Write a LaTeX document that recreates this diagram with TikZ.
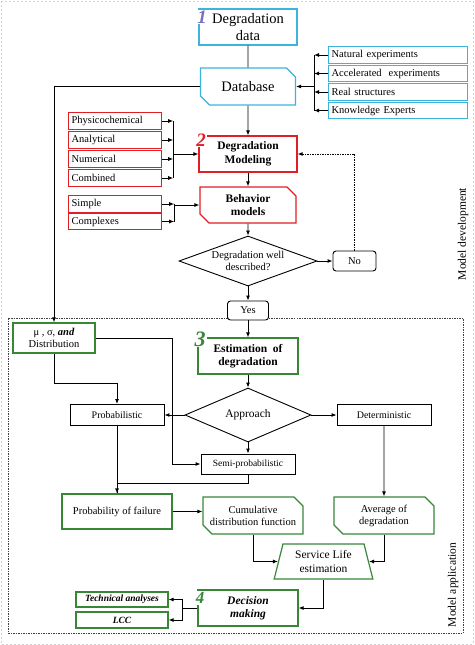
\documentclass[tikz,border=0pt]{standalone}
\usepackage{fontspec}
\setmainfont{Liberation Serif}
\usetikzlibrary{calc,arrows.meta,shapes.misc,shapes.geometric}

\definecolor{cian}{RGB}{60,180,222}
\definecolor{rojo}{RGB}{225,30,35}
\definecolor{verde}{RGB}{55,135,55}
\definecolor{lila}{RGB}{120,110,195}

\tikzset{
	arr/.style={-{Latex[length=5pt,width=4pt]}},
	caja/.style={draw, fill=white, line width=1.2pt, align=center, inner sep=1pt},
	corte/.style={chamfered rectangle, chamfered rectangle corners={north east,south west}, chamfered rectangle xsep=6pt},
	lista/.style={caja, inner xsep=3pt, align=left, anchor=west, minimum height=16.5pt},
	num/.style={fill=white, inner sep=1pt, font=\fontsize{19}{19}\selectfont\bfseries\itshape},
	grande/.style={font=\fontsize{14.5}{16.5}\selectfont},
	negrita/.style={font=\fontsize{11.5}{13.5}\selectfont\bfseries},
}

\begin{document}
\begin{tikzpicture}[x=1pt, y=-1pt, line width=0.9pt, font=\fontsize{10.5}{12}\selectfont]
\useasboundingbox (0,0) rectangle (474,645);
\draw[gray!35, line width=0.6pt, dash pattern=on 2pt off 2pt] (1,1) rectangle (473,644);
\draw[black!75, line width=0.6pt, dash pattern=on 1.5pt off 1pt] (8,318) rectangle (463,633);

%% Model development %%
\node[caja, draw=cian, grande, minimum width=98, minimum height=36] (data) at (248,27) {Degradation\\data};
\node[caja, corte, draw=cian, grande, minimum width=95, minimum height=37] (db) at (248,86.5) {Database};
\foreach \t [count=\i] in {Natural experiments, Accelerated\ \ experiments, Real structures, Knowledge Experts}
	\node[lista, draw=cian, text width=133] (src\i) at (328,36.5+18.5*\i) {\t};
\coordinate (bus1) at ($(src1.west)+(-14,0)$);
\draw (bus1) -- (bus1 |- src4.west);
\foreach \i in {1,...,4}
	\draw[arr] (src\i.west) -- (src\i.west -| bus1);
\draw[arr] (db.east -| bus1) -- (db.east);
\draw (data) -- (db);

\node[caja, draw=rojo, negrita, minimum width=98, minimum height=36] (mod) at (248,154) {Degradation\\Modeling};
\foreach \t [count=\i] in {Physicochemical, Analytical, Numerical, Combined}
	\node[lista, draw=rojo, text width=87] (met\i) at (68,102+19*\i) {\t};
\coordinate (bus2) at ($(met1.east)+(11,0)$);
\draw (bus2) -- (bus2 |- met4.east);
\foreach \i in {1,...,4}
	\draw[arr] (met\i.east) -- (met\i.east -| bus2);
\draw[arr] (mod.west -| bus2) -- (mod.west);
\draw[arr] (db) -- (mod);

\node[caja, corte, draw=rojo, negrita, minimum width=96, minimum height=36] (beh) at (248,205) {Behavior\\models};
\foreach \t [count=\i] in {Simple, Complexes}
	\node[lista, draw=rojo, text width=87] (tipo\i) at (68,186.5+17.5*\i) {\t};
\coordinate (bus3) at ($(tipo1.east)+(12,0)$);
\draw (bus3) -- (bus3 |- tipo2.east);
\foreach \i in {1,2}
	\draw[arr] (tipo\i.east) -- (tipo\i.east -| bus3);
\draw[arr] (beh.west -| bus3) -- (beh.west);
\draw[arr] (mod) -- (beh);

\node[draw, fill=white, diamond, aspect=2.76, inner sep=0, align=center, minimum width=138, minimum height=50] (well) at (248,261) {Degradation well\\described?};
\node[caja, line width=0.9pt, rounded corners=3pt, minimum width=43, minimum height=20] (no) at (354.5,261) {No};
\node[caja, line width=0.9pt, rounded corners=3pt, minimum width=41, minimum height=19] (yes) at (248,310.5) {Yes};
\draw[arr] (beh) -- (well);
\draw[arr] (well) -- (no);
\draw[arr, dash pattern=on 1.5pt off 1pt] (no.north) |- (mod.east);
\draw[arr] (well) -- (yes);

%% Model application %%
\node[caja, draw=verde, minimum width=82, minimum height=30] (mu) at (54,338) {μ , σ, \textbf{\textit{and}}\\Distribution};
\node[caja, draw=verde, negrita, minimum width=100, minimum height=36] (est) at (248,356) {Estimation\ \ of\\degradation};
\node[draw, fill=white, diamond, aspect=2.33, inner sep=0, minimum width=126, minimum height=54, font=\fontsize{11.5}{13}\selectfont] (appr) at (248,415) {Approach};
\node[caja, line width=0.9pt, minimum width=94, minimum height=21, font=\fontsize{10}{12}\selectfont] (prob) at (117,415) {Probabilistic};
\node[caja, line width=0.9pt, minimum width=94, minimum height=21, font=\fontsize{10}{12}\selectfont] (det) at (384,415) {Deterministic};
\node[caja, line width=0.9pt, minimum width=94, minimum height=20, font=\fontsize{9.5}{11}\selectfont] (semi) at (248,464) {Semi-probabilistic};
\draw[arr] (db.west) -| (mu.north);
\draw[arr] (yes) -- (est);
\draw[arr] (est) -- (appr);
\draw[arr] (appr) -- (prob);
\draw[arr] (appr) -- (det);
\draw[arr] (appr) -- (semi);
\draw[arr] (mu.east) -- ++(77,0) |- (semi.west);
\draw[arr] (mu.south) -- ++(0,30) -| (prob.north);

\node[caja, draw=verde, minimum width=110, minimum height=35] (fail) at (117,511.5) {Probability of failure};
\node[caja, corte, draw=verde, minimum width=100, minimum height=37] (cdf) at (253,515.5) {Cumulative\\distribution function};
\node[caja, corte, draw=verde, minimum width=100, minimum height=37] (avg) at (384,515.5) {Average of\\degradation};
\node[caja, draw=verde, trapezium, trapezium left angle=75, trapezium right angle=75, trapezium stretches=true, minimum width=99, minimum height=35, font=\fontsize{11.5}{13.5}\selectfont] (sle) at (323.5,561.5) {Service Life\\estimation};
\draw[arr] (prob) -- (fail);
\draw (semi.south) -- ++(0,9) -| (fail.north);
\draw[arr] (fail.east) -- (fail.east -| cdf.west);
\draw[arr] (det) -- (avg);
\draw[arr] (cdf.south) |- (sle.west);
\draw[arr] (avg.south) |- (sle.east);

\node[caja, draw=verde, minimum width=100, minimum height=36, font=\fontsize{11.5}{13.5}\selectfont\bfseries\itshape] (dec) at (248,608) {Decision\\making};
\node[caja, draw=verde, minimum width=92, minimum height=15, font=\fontsize{9.5}{11}\selectfont\bfseries\itshape] (tech) at (122,599.5) {Technical analyses};
\node[caja, draw=verde, minimum width=92, minimum height=16, font=\fontsize{9.5}{11}\selectfont\bfseries\itshape] (lcc) at (122,620) {LCC};
\draw[arr] (sle.south) |- (dec.east);
\draw (dec.west) -- ++(-15,0) coordinate (split);
\draw[arr] (split) |- (tech.east);
\draw[arr] (split) |- (lcc.east);

%% Numbers and side labels %%
\node[num, text=lila] (n1) at (202,17) {1};
\node[num, text=rojo] (n2) at (201,140) {2};
\node[num, text=verde, font=\fontsize{22}{22}\selectfont\bfseries\itshape] (n3) at (200,339) {3};
\node[num, text=verde, font=\fontsize{17}{17}\selectfont\bfseries\itshape] (n4) at (200,598) {4};
\node[rotate=90, font=\fontsize{11.5}{13}\selectfont] (dev) at (463,234) {Model development};
\node[rotate=90, font=\fontsize{11.5}{13}\selectfont] (app) at (453,585) {Model application};
\end{tikzpicture}
\end{document}
